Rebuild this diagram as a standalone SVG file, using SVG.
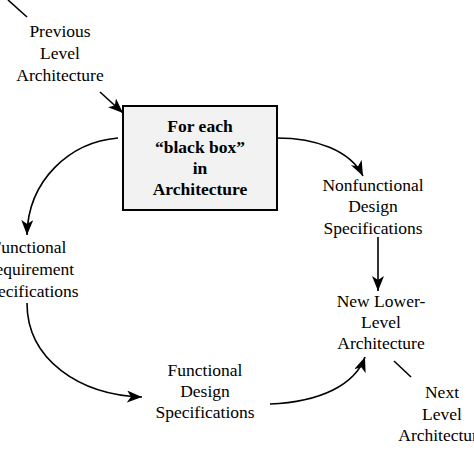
<svg xmlns="http://www.w3.org/2000/svg" width="474" height="474" viewBox="0 0 474 474">
<style>
text{font-family:"Liberation Serif","Times New Roman",serif;font-size:17.5px;fill:#000;text-anchor:middle}
.b{font-weight:bold}
.c{fill:none;stroke:#000;stroke-width:1.6}
</style>
<defs>
<marker id="ah" markerUnits="userSpaceOnUse" markerWidth="16" markerHeight="12" refX="15" refY="6" orient="auto">
<path d="M0,0 L15,6 L0,12 L4,6 z" fill="#000"/>
</marker>
</defs>
<rect width="474" height="474" fill="#fff"/>
<g id="connectors">
<path class="c" d="M8,0 L27,17"/>
<path class="c" d="M100,92 L123,113" marker-end="url(#ah)"/>
<path class="c" d="M118,138 C70,142 28,180 27,235" marker-end="url(#ah)"/>
<path class="c" d="M277,138 C315,138 350,150 363,176" marker-end="url(#ah)"/>
<path class="c" d="M378,237 L378,291" marker-end="url(#ah)"/>
<path class="c" d="M27,303 C27,360 80,395 142,397" marker-end="url(#ah)"/>
<path class="c" d="M270,404 C320,402 355,385 365,357" marker-end="url(#ah)"/>
<path class="c" d="M394,361 L411,377"/>
</g>
<g id="prev">
<text x="60" y="37">Previous</text>
<text x="60" y="59">Level</text>
<text x="60" y="81">Architecture</text>
</g>
<g id="box">
<rect x="123" y="106" width="154" height="104" fill="#f2f2f2" stroke="#000" stroke-width="2"/>
<text class="b" x="200" y="132">For each</text>
<text class="b" x="200" y="153">“black box”</text>
<text class="b" x="200" y="174">in</text>
<text class="b" x="200" y="195">Architecture</text>
</g>
<g id="nonfunc">
<text x="373" y="191">Nonfunctional</text>
<text x="373" y="212">Design</text>
<text x="373" y="234">Specifications</text>
</g>
<g id="funcreq">
<text x="29" y="253">Functional</text>
<text x="29" y="275">Requirement</text>
<text x="29" y="297">Specifications</text>
</g>
<g id="funcdesign">
<text x="205" y="376">Functional</text>
<text x="205" y="397">Design</text>
<text x="205" y="418">Specifications</text>
</g>
<g id="newlower">
<text x="381" y="307">New Lower-</text>
<text x="381" y="328">Level</text>
<text x="381" y="349">Architecture</text>
</g>
<g id="next">
<text x="442" y="398">Next</text>
<text x="442" y="420">Level</text>
<text x="442" y="441">Architecture</text>
</g>
</svg>
